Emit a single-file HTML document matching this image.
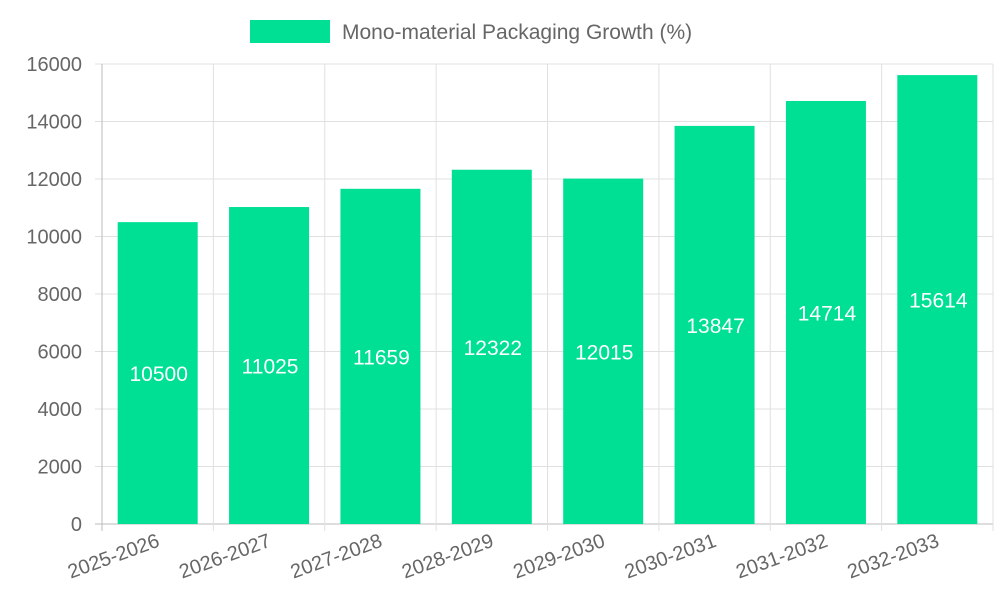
<!DOCTYPE html>
<html><head><meta charset="utf-8"><style>
body{margin:0;background:#fff;font-family:"Liberation Sans",sans-serif}
svg text{font-family:"Liberation Sans",sans-serif}
</style></head><body>
<svg id="chart" width="1000" height="600" xmlns="http://www.w3.org/2000/svg">
<g id="legend">
<rect x="250" y="20" width="80" height="23" fill="#00e094"/>
<text x="342" y="39" font-size="21" fill="#666">Mono-material Packaging Growth (%)</text>
</g>
<g id="grid"></g><g id="bars"></g><g id="labels"></g>
</svg>
<script>
const categories=["2025-2026","2026-2027","2027-2028","2028-2029","2029-2030","2030-2031","2031-2032","2032-2033"];
const values=[10500,11025,11659,12322,12015,13847,14714,15614];
const yTicks=[0,2000,4000,6000,8000,10000,12000,14000,16000];
const NS="http://www.w3.org/2000/svg";
const L=102,R=993,T=64,B=524,yMax=16000;
const bw=(R-L)/categories.length;
const y=v=>B-(v/yMax)*(B-T);
const xc=i=>L+bw*(i+0.5);
function mk(tag,attrs,parent){const e=document.createElementNS(NS,tag);for(const k in attrs)e.setAttribute(k,attrs[k]);parent.appendChild(e);return e;}
const grid=document.getElementById('grid'),bars=document.getElementById('bars'),labels=document.getElementById('labels');
yTicks.forEach(t=>{
 const l=mk('line',{x1:L-7,x2:R,y1:y(t),y2:y(t),stroke:t===0?'#bbb':'#e0e0e0','stroke-width':1},grid);
 
 
 const tx=mk('text',{x:L-20,y:y(t)+7,'text-anchor':'end','font-size':20,fill:'#666'},grid);
 tx.textContent=t;
 
 
});
for(let i=0;i<=categories.length;i++){
 const x=L+bw*i;
 const l=mk('line',{x1:x,x2:x,y1:T,y2:B+7,stroke:i===0?'#bbb':'#e0e0e0','stroke-width':1},grid);
 
 
}
categories.forEach((c,i)=>{
 const w=80,h=B-y(values[i]);
 const r=mk('rect',{x:xc(i)-w/2,y:y(values[i]),width:w,height:h,fill:'#00e094'},bars);
 
 
 const v=mk('text',{x:xc(i)+1,y:(y(values[i])+B)/2+8,'text-anchor':'middle','font-size':21,fill:'#fff'},labels);
 v.textContent=values[i];
 
 
 const cx=xc(i)+3,cy=546;
 const t=mk('text',{x:cx,y:cy,'text-anchor':'end','font-size':20,fill:'#666',transform:`rotate(-20 ${cx} ${cy})`},labels);
 t.textContent=c;
 
 
});
</script>
</body></html>
